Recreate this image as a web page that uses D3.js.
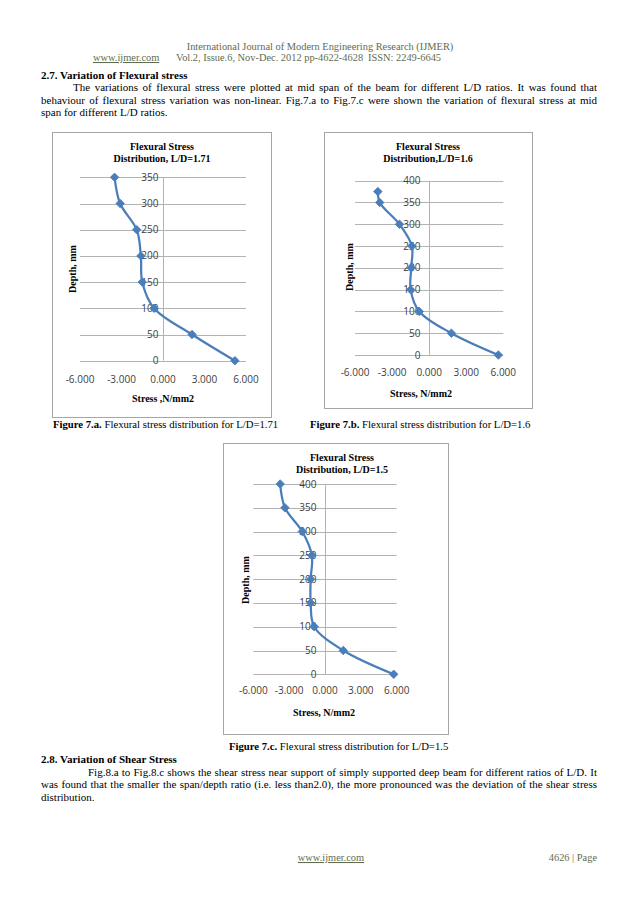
<!DOCTYPE html>
<html><head><meta charset="utf-8">
<script src="https://cdn.jsdelivr.net/npm/d3@7"></script>
<style>
html,body{margin:0;padding:0;background:#fff;}
svg{display:block;}
</style></head>
<body>
<script>
// ---------- DATA ----------
const xTicks = [-6, -3, 0, 3, 6];
const yTicksA = [0, 50, 100, 150, 200, 250, 300, 350];
const yTicksB = [0, 50, 100, 150, 200, 250, 300, 350, 400];
const yTicksC = [0, 50, 100, 150, 200, 250, 300, 350, 400];

const depthA = [0, 50, 100, 150, 200, 250, 300, 350];
const stressA = [5.2, 2.1, -0.65, -1.5, -1.6, -1.9, -3.1, -3.5];

const depthB = [0, 50, 100, 150, 200, 250, 300, 350, 375];
const stressB = [5.6, 1.8, -0.8, -1.5, -1.45, -1.4, -2.4, -4.0, -4.15];

const depthC = [0, 50, 100, 150, 200, 250, 300, 350, 400];
const stressC = [5.75, 1.53, -0.9, -1.2, -1.2, -1.1, -1.9, -3.35, -3.75];

const titlesA = ["Flexural Stress", "Distribution, L/D=1.71"];
const titlesB = ["Flexural Stress", "Distribution,L/D=1.6"];
const titlesC = ["Flexural Stress", "Distribution, L/D=1.5"];
const xTitleA = "Stress ,N/mm2";
const xTitleB = "Stress, N/mm2";
const xTitleC = "Stress, N/mm2";
const yTitle = "Depth, mm";

// ---------- PAGE ----------
const W = 638, H = 902;
const svg = d3.select("body").append("svg").attr("width", W).attr("height", H);
svg.append("rect").attr("width", W).attr("height", H).attr("fill", "#fff");

const serif = "'Liberation Serif','Times New Roman',serif";
const sans = "'Open Sans','Liberation Sans',sans-serif";
const headColor = "#5f6c4f";

function txt(x, y, s, opts = {}) {
  const t = svg.append("text").attr("x", x).attr("y", y)
    .attr("font-family", opts.family || serif)
    .attr("font-size", opts.size || 11)
    .attr("font-weight", opts.weight || "normal")
    .attr("fill", opts.fill || "#000")
    .attr("text-anchor", opts.anchor || "start")
    .text(s);
  if (opts.underline) t.attr("text-decoration", "underline");
  return t;
}

function justify(x0, x1, y, s, size) {
  const words = s.split(" ");
  const widths = words.map(w => {
    const t = txt(0, -100, w, {size});
    const wd = t.node().getComputedTextLength();
    t.remove();
    return wd;
  });
  const total = d3.sum(widths);
  const gap = (x1 - x0 - total) / (words.length - 1);
  let x = x0;
  words.forEach((w, i) => { txt(x, y, w, {size}); x += widths[i] + gap; });
}

// header
txt(320, 50, "International Journal of Modern Engineering Research (IJMER)", {anchor: "middle", fill: headColor, size: 10.4});
txt(93, 61, "www.ijmer.com", {fill: headColor, size: 10.4, underline: true});
txt(176, 61, "Vol.2, Issue.6, Nov-Dec. 2012 pp-4622-4628", {fill: headColor, size: 10.4});
txt(368, 61, "ISSN: 2249-6645", {fill: headColor, size: 10.4});

// section 2.7
txt(41, 79, "2.7.  Variation of Flexural stress", {weight: "bold", size: 11});
justify(73, 597, 91, "The variations of flexural stress were plotted at mid span of the beam for different L/D ratios. It was found that", 11);
justify(41, 597, 104, "behaviour of flexural stress variation was non-linear. Fig.7.a to Fig.7.c were shown the variation of flexural stress at mid", 11);
txt(41, 116, "span for different L/D ratios.", {size: 11});

// ---------- CHART ----------
const lineColor = "#4a7ebb";
const gridColor = "#b3b3b3";
const fmt = d3.formatLocale({decimal: ".", thousands: ",", grouping: [3], currency: ["", ""], minus: "-"}).format(".3f");

function chart(cfg) {
  const g = svg.append("g");
  g.append("rect").attr("x", cfg.box[0] + 0.5).attr("y", cfg.box[1] + 0.5)
    .attr("width", cfg.box[2]).attr("height", cfg.box[3])
    .attr("fill", "#fff").attr("stroke", "#a6a6a6").attr("stroke-width", 1);

  const x = d3.scaleLinear().domain([-6, 6]).range(cfg.xr);
  const y = d3.scaleLinear().domain([0, d3.max(cfg.yTicks)]).range(cfg.yr);

  g.selectAll(".grid").data(cfg.yTicks).join("line")
    .attr("x1", cfg.xr[0]).attr("x2", cfg.xr[1])
    .attr("y1", d => Math.round(y(d)) + 0.5).attr("y2", d => Math.round(y(d)) + 0.5)
    .attr("stroke", gridColor).attr("stroke-width", 1);

  const ax = Math.round(x(0)) + 0.5;
  g.append("line").attr("x1", ax).attr("x2", ax)
    .attr("y1", cfg.yr[1]).attr("y2", cfg.yr[0])
    .attr("stroke", gridColor).attr("stroke-width", 1);

  g.selectAll(".yl").data(cfg.yTicks).join("text")
    .attr("x", ax - cfg.yLabelGap).attr("y", d => y(d) + 3.5)
    .attr("text-anchor", "end").attr("font-family", sans).attr("font-size", 10)
    .attr("fill", "#404040").text(d => d);

  g.selectAll(".xl").data(xTicks).join("text")
    .attr("x", d => x(d)).attr("y", cfg.xLabelY)
    .attr("text-anchor", "middle").attr("font-family", sans).attr("font-size", 10)
    .attr("fill", "#404040").text(d => fmt(d));

  cfg.titles.forEach((t, i) => {
    g.append("text").attr("x", cfg.titleX).attr("y", cfg.titleY + i * 12.5)
      .attr("text-anchor", "middle").attr("font-family", serif).attr("font-size", 10)
      .attr("font-weight", "bold").text(t);
  });
  g.append("text").attr("x", cfg.xTitlePos[0]).attr("y", cfg.xTitlePos[1])
    .attr("text-anchor", "middle").attr("font-family", serif).attr("font-size", 10)
    .attr("font-weight", "bold").text(cfg.xTitle);
  g.append("text")
    .attr("transform", `translate(${cfg.yTitlePos[0]},${cfg.yTitlePos[1]}) rotate(-90)`)
    .attr("text-anchor", "middle").attr("font-family", serif).attr("font-size", 10)
    .attr("font-weight", "bold").text(yTitle);

  const pts = cfg.depth.map((d, i) => [cfg.stress[i], d]);
  const line = d3.line().x(d => x(d[0])).y(d => y(d[1])).curve(d3.curveCatmullRom.alpha(0.5));
  g.append("path").attr("d", line(pts)).attr("fill", "none")
    .attr("stroke", lineColor).attr("stroke-width", 2.25).attr("stroke-linejoin", "round");
  g.selectAll(".m").data(pts).join("path")
    .attr("transform", d => `translate(${x(d[0])},${y(d[1])}) rotate(45)`)
    .attr("d", d3.symbol().type(d3.symbolSquare).size(36)())
    .attr("fill", lineColor).attr("stroke", lineColor).attr("stroke-width", 0.8);
}

chart({
  box: [52, 132, 219, 285],
  xr: [80, 246], yr: [360.7, 177.3], yTicks: yTicksA, yLabelGap: 5,
  depth: depthA, stress: stressA,
  titles: titlesA, titleX: 162, titleY: 149.5,
  xLabelY: 382.5, xTitle: xTitleA, xTitlePos: [163, 402],
  yTitlePos: [75.5, 269]
});
chart({
  box: [324, 132, 208, 276],
  xr: [355, 503.3], yr: [355, 180.7], yTicks: yTicksB, yLabelGap: 9,
  depth: depthB, stress: stressB,
  titles: titlesB, titleX: 428, titleY: 149.5,
  xLabelY: 376, xTitle: xTitleB, xTitlePos: [421, 397],
  yTitlePos: [352.5, 267]
});
chart({
  box: [223, 443, 225, 291],
  xr: [253.3, 396.7], yr: [674.3, 484], yTicks: yTicksC, yLabelGap: 9,
  depth: depthC, stress: stressC,
  titles: titlesC, titleX: 342, titleY: 460.5,
  xLabelY: 694, xTitle: xTitleC, xTitlePos: [324, 716],
  yTitlePos: [248.5, 580]
});

function caption(x, y, bold, rest) {
  const t = svg.append("text").attr("x", x).attr("y", y)
    .attr("font-family", serif).attr("font-size", 10.7);
  t.append("tspan").attr("font-weight", "bold").text(bold);
  t.append("tspan").text(rest);
}
caption(53, 428, "Figure 7.a.", " Flexural stress distribution for L/D=1.71");
caption(310, 428, "Figure 7.b.", " Flexural stress distribution for L/D=1.6");
caption(229, 750, "Figure 7.c.", " Flexural stress distribution for L/D=1.5");

// section 2.8
txt(41, 763, "2.8.  Variation of Shear Stress", {weight: "bold", size: 11});
justify(88, 597, 776, "Fig.8.a to Fig.8.c shows the shear stress near support of simply supported deep beam for different ratios of L/D. It", 11);
justify(41, 597, 788, "was found that the smaller the span/depth ratio (i.e. less than2.0), the more pronounced was the deviation of the shear stress", 11);
txt(41, 801, "distribution.", {size: 11});

// footer
txt(331, 861, "www.ijmer.com", {anchor: "middle", fill: headColor, size: 10.4, underline: true});
txt(597, 861, "4626 | Page", {anchor: "end", fill: headColor, size: 10.4});
</script>
</body></html>
